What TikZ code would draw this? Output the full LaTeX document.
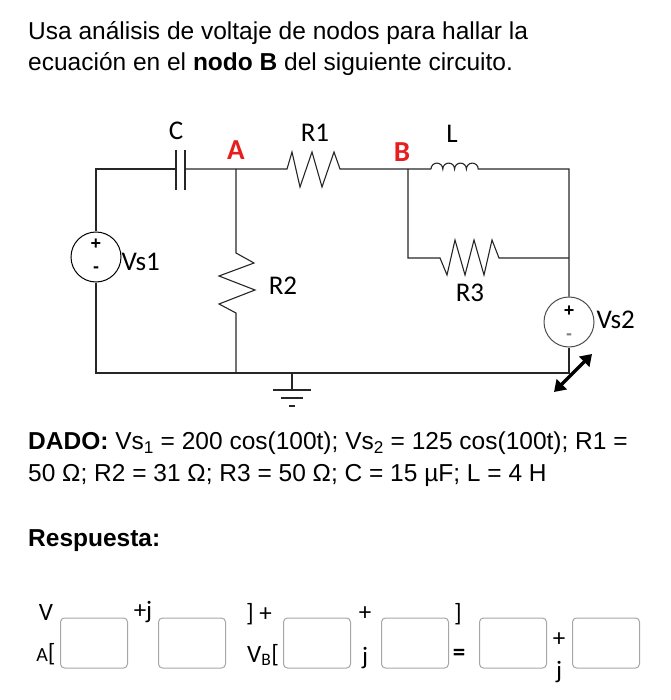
\documentclass[tikz,border=0pt]{standalone}
\usepackage{fontspec}
\setmainfont{Liberation Sans}
\newfontfamily\carlitofont{Carlito}
\usetikzlibrary{arrows.meta}
\definecolor{nodered}{RGB}{230,30,30}
\begin{document}
\begin{tikzpicture}[x=1pt,y=-1pt,
  wire/.style={line width=1.1pt,black!85},
  lab/.style={font=\carlitofont\fontsize{27}{27}\selectfont},
  nlab/.style={font=\carlitofont\bfseries\fontsize{29}{29}\selectfont,text=nodered},
  txt/.style={font=\fontsize{24.5}{28}\selectfont,anchor=west,inner sep=0},
  ans/.style={draw=gray!70,rounded corners=4pt,line width=1pt,minimum width=67pt,minimum height=50pt,inner sep=0},
  eq/.style={font=\carlitofont\fontsize{25}{25}\selectfont,inner sep=0},
  pm/.style={font=\bfseries\fontsize{18}{18}\selectfont}]
\useasboundingbox (0,0) rectangle (670,700);
\node[txt] (t1) at (28,33) {Usa análisis de voltaje de nodos para hallar la};
\node[txt] (t2) at (28,64) {ecuación en el \textbf{nodo B} del siguiente circuito.};
% circuit
\coordinate (TL) at (96,169); \coordinate (BL) at (96,373);
\coordinate (A) at (236,169); \coordinate (AB) at (236,373);
\coordinate (B) at (408,169); \coordinate (TR) at (569,169);
\coordinate (BR) at (569,373);
\node[draw,circle,line width=1pt,minimum size=50pt,inner sep=0] (vs1) at (96,257) {};
\node[pm] (vs1p) at (96,244) {+};
\node[pm] (vs1m) at (96,270) {-};
\node[lab,anchor=west] (vs1l) at (118,262) {Vs1};
\node[draw,circle,line width=1pt,draw=black!70,minimum size=50pt,inner sep=0] (vs2) at (569,322) {};
\node[pm] (vs2p) at (569,311) {+};
\node[pm,text=gray] (vs2m) at (569,337) {-};
\node[lab,anchor=west] (vs2l) at (593,320) {Vs2};
\draw[wire] (vs1.north) -- (TL) -- (176,169);
\draw[wire] (176,150) -- (176,190) (185,150) -- (185,190);
\draw[wire] (185,169) -- (A) -- (287,169) -- (292,152) -- (300,187) -- (312,152) -- (322,187) -- (334,152) -- (340,169) -- (B) -- (431,169);
\draw[wire] (431,169) arc(180:360:5.9) arc(180:360:5.9) arc(180:360:5.9) arc(180:360:5.9) -- (TR) -- (vs2.north);
\draw[wire] (B) -- (408,258) -- (440,258) -- (447,275) -- (455,240) -- (465,275) -- (474,240) -- (484,275) -- (492,240) -- (499,258) -- (569,258);
\draw[wire] (A) -- (236,253) -- (254,263) -- (219,276) -- (255,290) -- (219,304) -- (236,313) -- (AB);
\draw[wire] (vs1.south) -- (BL) -- (AB) -- (BR) -- (vs2.south);
\coordinate (G) at (292,373);
\draw[wire] (G) -- (292,390);
\draw[wire] (273,390) -- (311,390) (281,398) -- (303,398) (289,406) -- (295,406);
\coordinate (ar1) at (554,392); \coordinate (ar2) at (592,354);
\draw[line width=3.5pt,{Triangle[length=11pt,width=14pt]}-{Triangle[length=11pt,width=14pt]}] (ar1) -- (ar2);
\node[lab] (Cl) at (176,131) {C};
\node[nlab] (Al) at (236,150) {A};
\node[lab] (R1l) at (315,133) {R1};
\node[nlab] (Bl) at (402,152) {B};
\node[lab] (Ll) at (452,134) {L};
\node[lab] (R3l) at (470,293) {R3};
\node[lab] (R2l) at (283,286) {R2};
% data
\node[txt] (d1) at (28,443) {\textbf{DADO:} Vs\textsubscript{1} = 200 cos(100t); Vs\textsubscript{2} = 125 cos(100t); R1 =};
\node[txt] (d2) at (28,475) {50 Ω; R2 = 31 Ω; R3 = 50 Ω; C = 15 µF; L = 4 H};
\node[txt] (resp) at (28,541) {\textbf{Respuesta:}};
% answer
\node[ans] (b1) at (94,643) {};
\node[ans] (b2) at (192,643) {};
\node[ans] (b3) at (317,643) {};
\node[ans] (b4) at (415,643) {};
\node[ans] (b5) at (513,643) {};
\node[ans] (b6) at (606,643) {};
\node[eq] (e1) at (46,612) {V};
\node[eq] (e2) at (46,654) {\fontsize{20}{20}\selectfont A\fontsize{25}{25}\selectfont[};
\node[eq] (e3) at (143,612) {+j};
\node[eq] (e4) at (259,614) {] +};
\node[eq] (e5) at (263,655) {V\textsubscript{B}[};
\node[eq] (e6) at (365,614) {+};
\node[eq] (e7) at (365,658) {j};
\node[eq] (e8) at (458,614) {]};
\node[eq] (e9) at (459,655) {\textbf{=}};
\node[eq] (e10) at (559,640) {+};
\node[eq] (e11) at (559,672) {j};
\end{tikzpicture}
\end{document}
